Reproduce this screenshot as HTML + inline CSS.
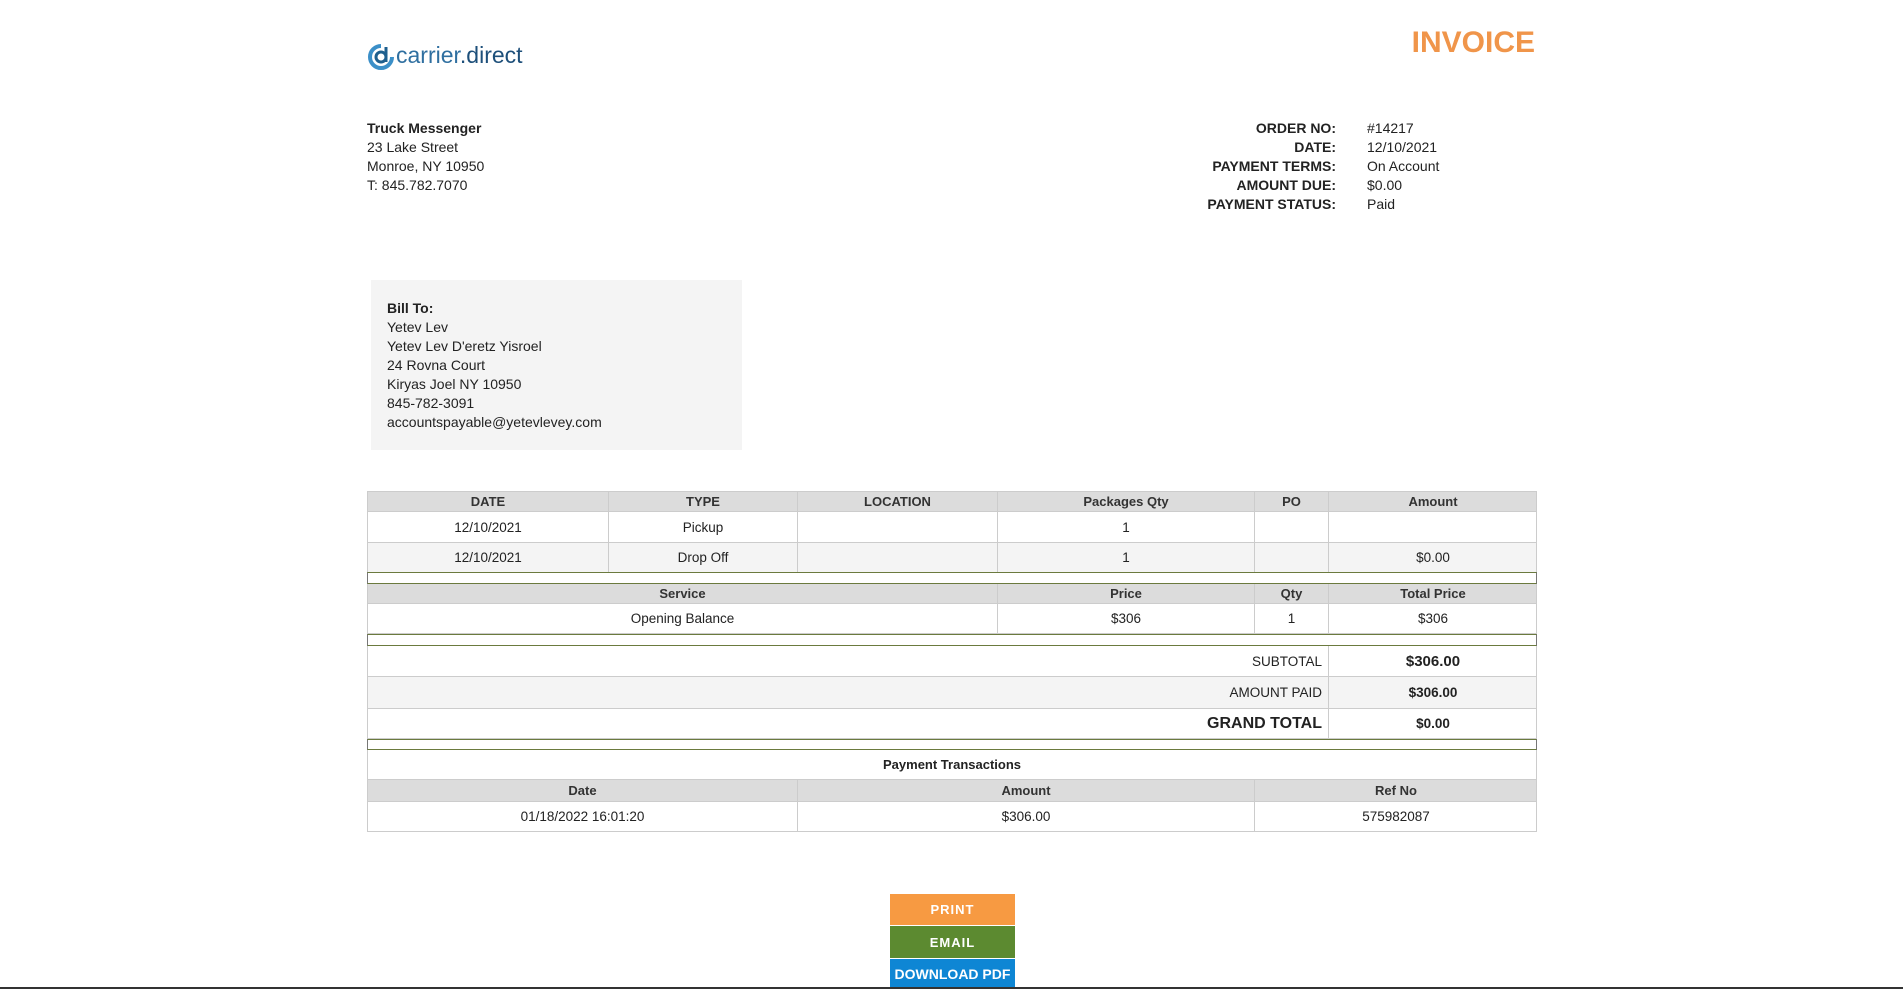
<!DOCTYPE html>
<html><head><meta charset="utf-8"><style>
*{margin:0;padding:0;box-sizing:border-box}
body{width:1903px;height:989px;background:#fff;font-family:"Liberation Sans",sans-serif;color:#222;position:relative;overflow:hidden}
.a{position:absolute;white-space:nowrap}
.t{font-size:14px;line-height:19px}
.r{position:absolute;left:367px;width:1170px;border-left:1px solid #ccc;border-right:1px solid #ccc;border-bottom:1px solid #ccc}
.c{position:absolute;top:0;bottom:0;text-align:center;font-size:13.5px;display:flex;align-items:center;justify-content:center;border-left:1px solid #ccc}
.c:first-child{border-left:none}
.h{background:#dcdcdc}
.h .c{font-weight:bold;font-size:13px;color:#333}
.sp{position:absolute;left:367px;width:1170px;border:1px solid #6b7a3e;border-left:1px solid #777;border-right:1px solid #777;background:#fff}
.btn{position:absolute;left:890px;width:125px;color:#fff;font-weight:bold;font-size:13px;letter-spacing:1px;display:flex;align-items:center;justify-content:center}
</style></head><body>
<div class="a" style="left:368px;top:44px;">
<svg width="26" height="26" viewBox="0 0 26 26"><path d="M13 2 A11 11 0 1 0 24 13" fill="none" stroke="#3b8fc8" stroke-width="4"/><circle cx="13" cy="13" r="5" fill="none" stroke="#1e5f8e" stroke-width="3"/><line x1="18" y1="3" x2="18" y2="18" stroke="#1e5f8e" stroke-width="3"/></svg>
</div>
<div class="a" style="left:396px;top:42px;font-size:23px;color:#2f6fa0;">carrier<span style="color:#1d4f7a">.direct</span></div>
<div class="a" style="right:368px;top:26px;font-size:30px;font-weight:bold;color:#f0954a;">INVOICE</div>
<div class="a t" style="left:367px;top:119px;"><b>Truck Messenger</b><br>23 Lake Street<br>Monroe, NY 10950<br>T: 845.782.7070</div>
<div class="a t" style="right:567px;top:119px;text-align:right;font-weight:bold;">ORDER NO:<br>DATE:<br>PAYMENT TERMS:<br>AMOUNT DUE:<br>PAYMENT STATUS:</div>
<div class="a t" style="left:1367px;top:119px;">#14217<br>12/10/2021<br>On Account<br>$0.00<br>Paid</div>
<div class="a" style="left:371px;top:280px;width:371px;height:170px;background:#f4f4f4;"></div>
<div class="a t" style="left:387px;top:299px;"><b>Bill To:</b><br>Yetev Lev<br>Yetev Lev D'eretz Yisroel<br>24 Rovna Court<br>Kiryas Joel NY 10950<br>845-782-3091<br>accountspayable@yetevlevey.com</div>

<div class="r h" style="top:491px;height:21px;border-top:1px solid #ccc"><div class="c" style="left:0;width:240px">DATE</div><div class="c" style="left:240px;width:189px">TYPE</div><div class="c" style="left:429px;width:200px">LOCATION</div><div class="c" style="left:629px;width:257px">Packages Qty</div><div class="c" style="left:886px;width:74px">PO</div><div class="c" style="left:960px;width:209px">Amount</div></div>
<div class="r" style="top:512px;height:31px"><div class="c" style="left:0;width:240px">12/10/2021</div><div class="c" style="left:240px;width:189px">Pickup</div><div class="c" style="left:429px;width:200px"></div><div class="c" style="left:629px;width:257px">1</div><div class="c" style="left:886px;width:74px"></div><div class="c" style="left:960px;width:209px"></div></div>
<div class="r" style="top:543px;height:30px;background:#f4f4f4"><div class="c" style="left:0;width:240px">12/10/2021</div><div class="c" style="left:240px;width:189px">Drop Off</div><div class="c" style="left:429px;width:200px"></div><div class="c" style="left:629px;width:257px">1</div><div class="c" style="left:886px;width:74px"></div><div class="c" style="left:960px;width:209px">$0.00</div></div>
<div class="sp" style="top:572px;height:12px"></div>
<div class="r h" style="top:584px;height:20px"><div class="c" style="left:0;width:629px">Service</div><div class="c" style="left:629px;width:257px">Price</div><div class="c" style="left:886px;width:74px">Qty</div><div class="c" style="left:960px;width:209px">Total Price</div></div>
<div class="r" style="top:604px;height:30px"><div class="c" style="left:0;width:629px">Opening Balance</div><div class="c" style="left:629px;width:257px">$306</div><div class="c" style="left:886px;width:74px">1</div><div class="c" style="left:960px;width:209px">$306</div></div>
<div class="sp" style="top:634px;height:12px"></div>
<div class="r" style="top:646px;height:31px"><div class="c" style="left:0;width:960px;justify-content:flex-end;padding-right:6px">SUBTOTAL</div><div class="c" style="left:960px;width:209px;font-weight:bold;font-size:15px">$306.00</div></div>
<div class="r" style="top:677px;height:32px;background:#f4f4f4"><div class="c" style="left:0;width:960px;justify-content:flex-end;padding-right:6px">AMOUNT PAID</div><div class="c" style="left:960px;width:209px;font-weight:bold">$306.00</div></div>
<div class="r" style="top:709px;height:30px"><div class="c" style="left:0;width:960px;justify-content:flex-end;padding-right:6px;font-weight:bold;font-size:16px">GRAND TOTAL</div><div class="c" style="left:960px;width:209px;font-weight:bold">$0.00</div></div>
<div class="sp" style="top:739px;height:11px"></div>
<div class="r" style="top:750px;height:29px;border-bottom:none"><div class="c" style="left:0;width:1168px;font-weight:bold;font-size:13px">Payment Transactions</div></div>
<div class="r h" style="top:779px;height:23px;border-top:1px solid #ccc"><div class="c" style="left:0;width:429px">Date</div><div class="c" style="left:429px;width:457px">Amount</div><div class="c" style="left:886px;width:283px">Ref No</div></div>
<div class="r" style="top:802px;height:30px"><div class="c" style="left:0;width:429px">01/18/2022 16:01:20</div><div class="c" style="left:429px;width:457px">$306.00</div><div class="c" style="left:886px;width:283px">575982087</div></div>

<div class="btn" style="top:894px;height:31px;background:#f79a42">PRINT</div>
<div class="btn" style="top:926px;height:32px;background:#5c8a30">EMAIL</div>
<div class="btn" style="top:959px;height:30px;background:#0e86d4;letter-spacing:0;font-size:14px">DOWNLOAD PDF</div>
<div class="a" style="left:0;top:987px;width:1903px;height:2px;background:#333"></div>
</body></html>
